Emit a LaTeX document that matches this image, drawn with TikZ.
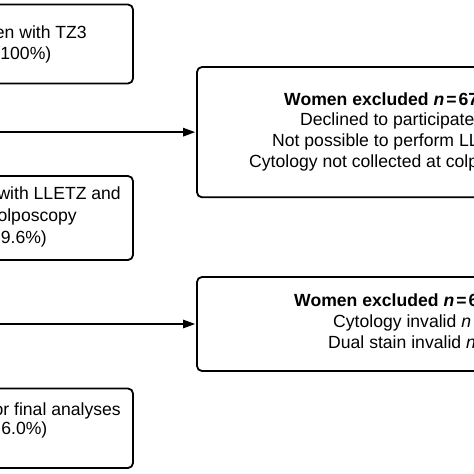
\documentclass[tikz,border=0pt]{standalone}
\usepackage{fontspec}
\setmainfont{Liberation Sans}
\definecolor{flowInk}{HTML}{000000}
\usetikzlibrary{
	arrows.meta,
	positioning,
	calc
}
\tikzset{
	cajaFlujo/.style={
		draw=flowInk,
		line width=1.8pt,
		rounded corners=5pt,
		inner sep=0pt
	},
	cajaMain/.style={
		cajaFlujo,
		minimum width=293pt
	},
	cajaExcl/.style={
		cajaFlujo,
		minimum width=443pt
	},
	textoFlujo/.style={
		inner sep=0pt,
		font=\fontsize{17.6}{21}\selectfont
	},
	flechaFlujo/.style={
		-{Triangle[length=12pt, width=8.5pt]},
		line width=1.4pt,
		draw=flowInk,
		shorten >=1pt
	}
}

\begin{document}
\begin{tikzpicture}[x=1pt, y=-1pt]
		\useasboundingbox (0,0) rectangle (474,474);
		\clip (0,0) rectangle (474,474);
		% main column (cut at the left edge)
		\node[cajaMain, minimum height=79pt] (tzBox) at (-13.5,44) {};
		\node[cajaMain, minimum height=84pt] (lletzBox) at (-13.5,218) {};
		\node[cajaMain, minimum height=79.5pt] (finalBox) at (-13.5,428.25) {};
		% exclusions (cut at the right edge)
		\node[cajaExcl, minimum height=130.3pt] (exclA) at (418.5,132.15) {};
		\node[cajaExcl, minimum height=94pt] (exclB) at (418.5,324) {};
		\foreach \x/\y/\lab [count=\i] in {87/38/en with TZ3, 51.5/59/(100\%),
			121/199/with LLETZ and, 77/221/olposcopy, 47/243/9.6\%),
			121/415.5/or final analyses, 47.5/434/6.0\%)}{
			\node[textoFlujo, anchor=base east] (ladoIzq\i) at (\x,\y) {\lab};
		}
		\foreach \x/\y/\lab [count=\i] in {
			284/105/\textbf{Women excluded \textit{n}\kern2pt=\kern2pt67},
			300/125.5/Declined to participate,
			272/146.5/Not possible to perform LLE,
			249/167/Cytology not collected at colp,
			294/306.7/\textbf{Women excluded \textit{n}\kern2pt=\kern2pt6},
			333/327.5/Cytology invalid \textit{n},
			328/348/Dual stain invalid \textit{n}}{
			\node[textoFlujo, anchor=base west] (ladoDer\i) at (\x,\y) {\lab};
		}
		\coordinate (trunkA) at (tzBox.south |- exclA.west);
		\coordinate (trunkB) at (lletzBox.south |- exclB.west);
		\draw[flechaFlujo] (trunkA) -- (exclA.west);
		\draw[flechaFlujo] (trunkB) -- (exclB.west);
	\end{tikzpicture}
\end{document}
